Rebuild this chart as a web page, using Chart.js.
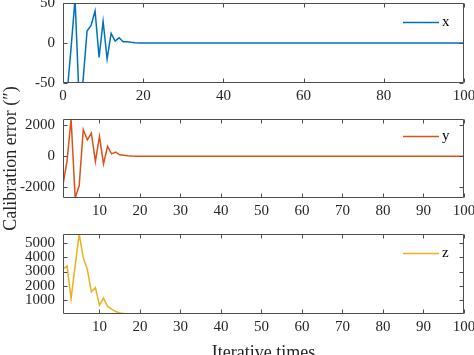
<!DOCTYPE html>
<html><head><meta charset="utf-8">
<script src="https://cdn.jsdelivr.net/npm/chart.js@4"></script>
<style>
html,body{margin:0;padding:0;background:#fff;}
#wrap{position:relative;width:474px;height:355px;overflow:hidden;background:#fff;}
canvas{position:absolute;left:0;}
</style></head><body>
<div id="wrap">
<canvas id="c1" width="474" height="110" style="top:0px"></canvas>
<canvas id="c2" width="474" height="170" style="top:70px"></canvas>
<canvas id="c3" width="474" height="145" style="top:225px"></canvas>
</div>
<script>
const iterations = [1,2,3,4,5,6,7,8,9,10,11,12,13,14,15,16,17,18,19,20,21,22,23,24,25,26,27,28,29,30,31,32,33,34,35,36,37,38,39,40,41,42,43,44,45,46,47,48,49,50,51,52,53,54,55,56,57,58,59,60,61,62,63,64,65,66,67,68,69,70,71,72,73,74,75,76,77,78,79,80,81,82,83,84,85,86,87,88,89,90,91,92,93,94,95,96,97,98,99,100];
const errorX = [-64,-7,55,-68,-47,15,22,40,-18,27,-20,12,2.5,6.5,1.5,1.5,0.8,0.3,0,0,0,0,0,0,0,0,0,0,0,0,0,0,0,0,0,0,0,0,0,0,0,0,0,0,0,0,0,0,0,0,0,0,0,0,0,0,0,0,0,0,0,0,0,0,0,0,0,0,0,0,0,0,0,0,0,0,0,0,0,0,0,0,0,0,0,0,0,0,0,0,0,0,0,0,0,0,0,0,0,0];
const errorY = [-1850,-300,2400,-2700,-1900,1720,1050,1480,-340,1270,-500,640,150,260,90,60,30,10,0,0,0,0,0,0,0,0,0,0,0,0,0,0,0,0,0,0,0,0,0,0,0,0,0,0,0,0,0,0,0,0,0,0,0,0,0,0,0,0,0,0,0,0,0,0,0,0,0,0,0,0,0,0,0,0,0,0,0,0,0,0,0,0,0,0,0,0,0,0,0,0,0,0,0,0,0,0,0,0,0,0];
const errorZ = [3160,3400,1090,3400,5640,3980,3160,1560,1870,620,1120,530,340,175,80,30,10,0,0,0,0,0,0,0,0,0,0,0,0,0,0,0,0,0,0,0,0,0,0,0,0,0,0,0,0,0,0,0,0,0,0,0,0,0,0,0,0,0,0,0,0,0,0,0,0,0,0,0,0,0,0,0,0,0,0,0,0,0,0,0,0,0,0,0,0,0,0,0,0,0,0,0,0,0,0,0,0,0,0,0];
const xTicksTop = [0,20,40,60,80,100];
const xTicksLower = [10,20,30,40,50,60,70,80,90,100];
const yTicksX = [-50,0,50];
const yTicksY = [-2000,0,2000];
const yTicksZ = [1000,2000,3000,4000,5000];
const seriesLabels = ['x','y','z'];
const seriesColors = ['#0072BD','#D95319','#EDB120'];
const yAxisTitle = 'Calibration error (\u2033)';
const xAxisTitle = 'Iterative times';

const SERIF = "'Liberation Serif', 'DejaVu Serif', serif";
const axisColor = '#4d4d4d';
const textColor = '#262626';
Chart.defaults.font.family = SERIF;
Chart.defaults.color = textColor;

const boxPlugin = {
  id: 'matlabBox',
  afterDatasetsDraw(chart) {
    const {ctx, chartArea: a, scales: {x, y}} = chart;
    const L = Math.round(a.left) + 0.5, R = Math.round(a.right) - 0.5;
    const T = Math.round(a.top) + 0.5, B = Math.round(a.bottom) - 0.5;
    const tl = 4;
    ctx.save();
    ctx.strokeStyle = axisColor;
    ctx.lineWidth = 1;
    ctx.beginPath();
    ctx.rect(L, T, R - L, B - T);
    x.ticks.forEach(t => {
      const px = Math.round(x.getPixelForValue(t.value)) + 0.5;
      ctx.moveTo(px, B); ctx.lineTo(px, B - tl);
      ctx.moveTo(px, T); ctx.lineTo(px, T + tl);
    });
    y.ticks.forEach(t => {
      const py = Math.round(y.getPixelForValue(t.value)) + 0.5;
      ctx.moveTo(L, py); ctx.lineTo(L + tl, py);
      ctx.moveTo(R, py); ctx.lineTo(R - tl, py);
    });
    ctx.stroke();
    // legend (inside, top right, no box)
    const ds = chart.data.datasets[0];
    const ly = Math.round(a.top + chart.options.plugins.innerLegend.dy) + 0.5;
    ctx.strokeStyle = ds.borderColor;
    ctx.lineWidth = ds.borderWidth;
    ctx.beginPath();
    ctx.moveTo(a.right - 61, ly); ctx.lineTo(a.right - 25, ly);
    ctx.stroke();
    ctx.fillStyle = '#000';
    ctx.font = "15px " + SERIF;
    ctx.textBaseline = 'middle';
    ctx.textAlign = 'left';
    ctx.fillText(ds.label, a.right - 22, ly);
    ctx.restore();
  }
};

function makeChart(id, values, idx, xr, xTicks, yr, yTicks, padTop, xHeight, legendDy, yTitle, xTitle) {
  return new Chart(document.getElementById(id), {
    type: 'line',
    data: {
      labels: iterations,
      datasets: [{
        label: seriesLabels[idx],
        data: values,
        borderColor: seriesColors[idx],
        backgroundColor: seriesColors[idx],
        borderWidth: 1.5,
        pointRadius: 0,
        tension: 0,
        fill: false
      }]
    },
    options: {
      responsive: false,
      animation: false,
      devicePixelRatio: 1,
      layout: {padding: {top: padTop, right: 10, left: 0, bottom: 0}},
      plugins: {legend: {display: false}, tooltip: {enabled: false}, innerLegend: {dy: legendDy}},
      scales: {
        x: {
          type: 'linear', min: xr[0], max: xr[1],
          grid: {display: false, drawTicks: false},
          border: {display: false},
          afterBuildTicks: s => { s.ticks = xTicks.map(v => ({value: v})); },
          afterFit: s => { s.height = xHeight; s.paddingLeft = 0; s.paddingRight = 0; },
          ticks: {font: {size: 15, family: SERIF}, padding: 4, color: textColor, maxRotation: 0, autoSkip: false,
                  callback: v => String(v)},
          title: xTitle ? {display: true, text: xTitle, font: {size: 18, family: SERIF}, color: textColor, padding: {top: 0, bottom: 6}} : {display: false}
        },
        y: {
          type: 'linear', min: yr[0], max: yr[1],
          grid: {display: false, drawTicks: false},
          border: {display: false},
          afterBuildTicks: s => { s.ticks = yTicks.map(v => ({value: v})); },
          afterFit: s => { s.width = 63; s.paddingTop = 0; s.paddingBottom = 0; },
          ticks: {font: {size: 15, family: SERIF}, padding: 8, color: textColor, autoSkip: false, callback: v => String(v)},
          title: yTitle ? {display: true, text: yTitle, font: {size: 18, family: SERIF}, color: textColor, padding: 0} : {display: false}
        }
      }
    },
    plugins: [boxPlugin]
  });
}

makeChart('c1', errorX, 0, [0, 100], xTicksTop, [-50, 50], yTicksX, 3, 27, 19, null, null);
makeChart('c2', errorY, 1, [1, 100], xTicksLower, [-2700, 2400], yTicksY, 49, 42, 17, yAxisTitle, null);
makeChart('c3', errorZ, 2, [1, 100], xTicksLower, [0, 5650], yTicksZ, 9, 56, 19, null, xAxisTitle);
</script>
</body></html>
